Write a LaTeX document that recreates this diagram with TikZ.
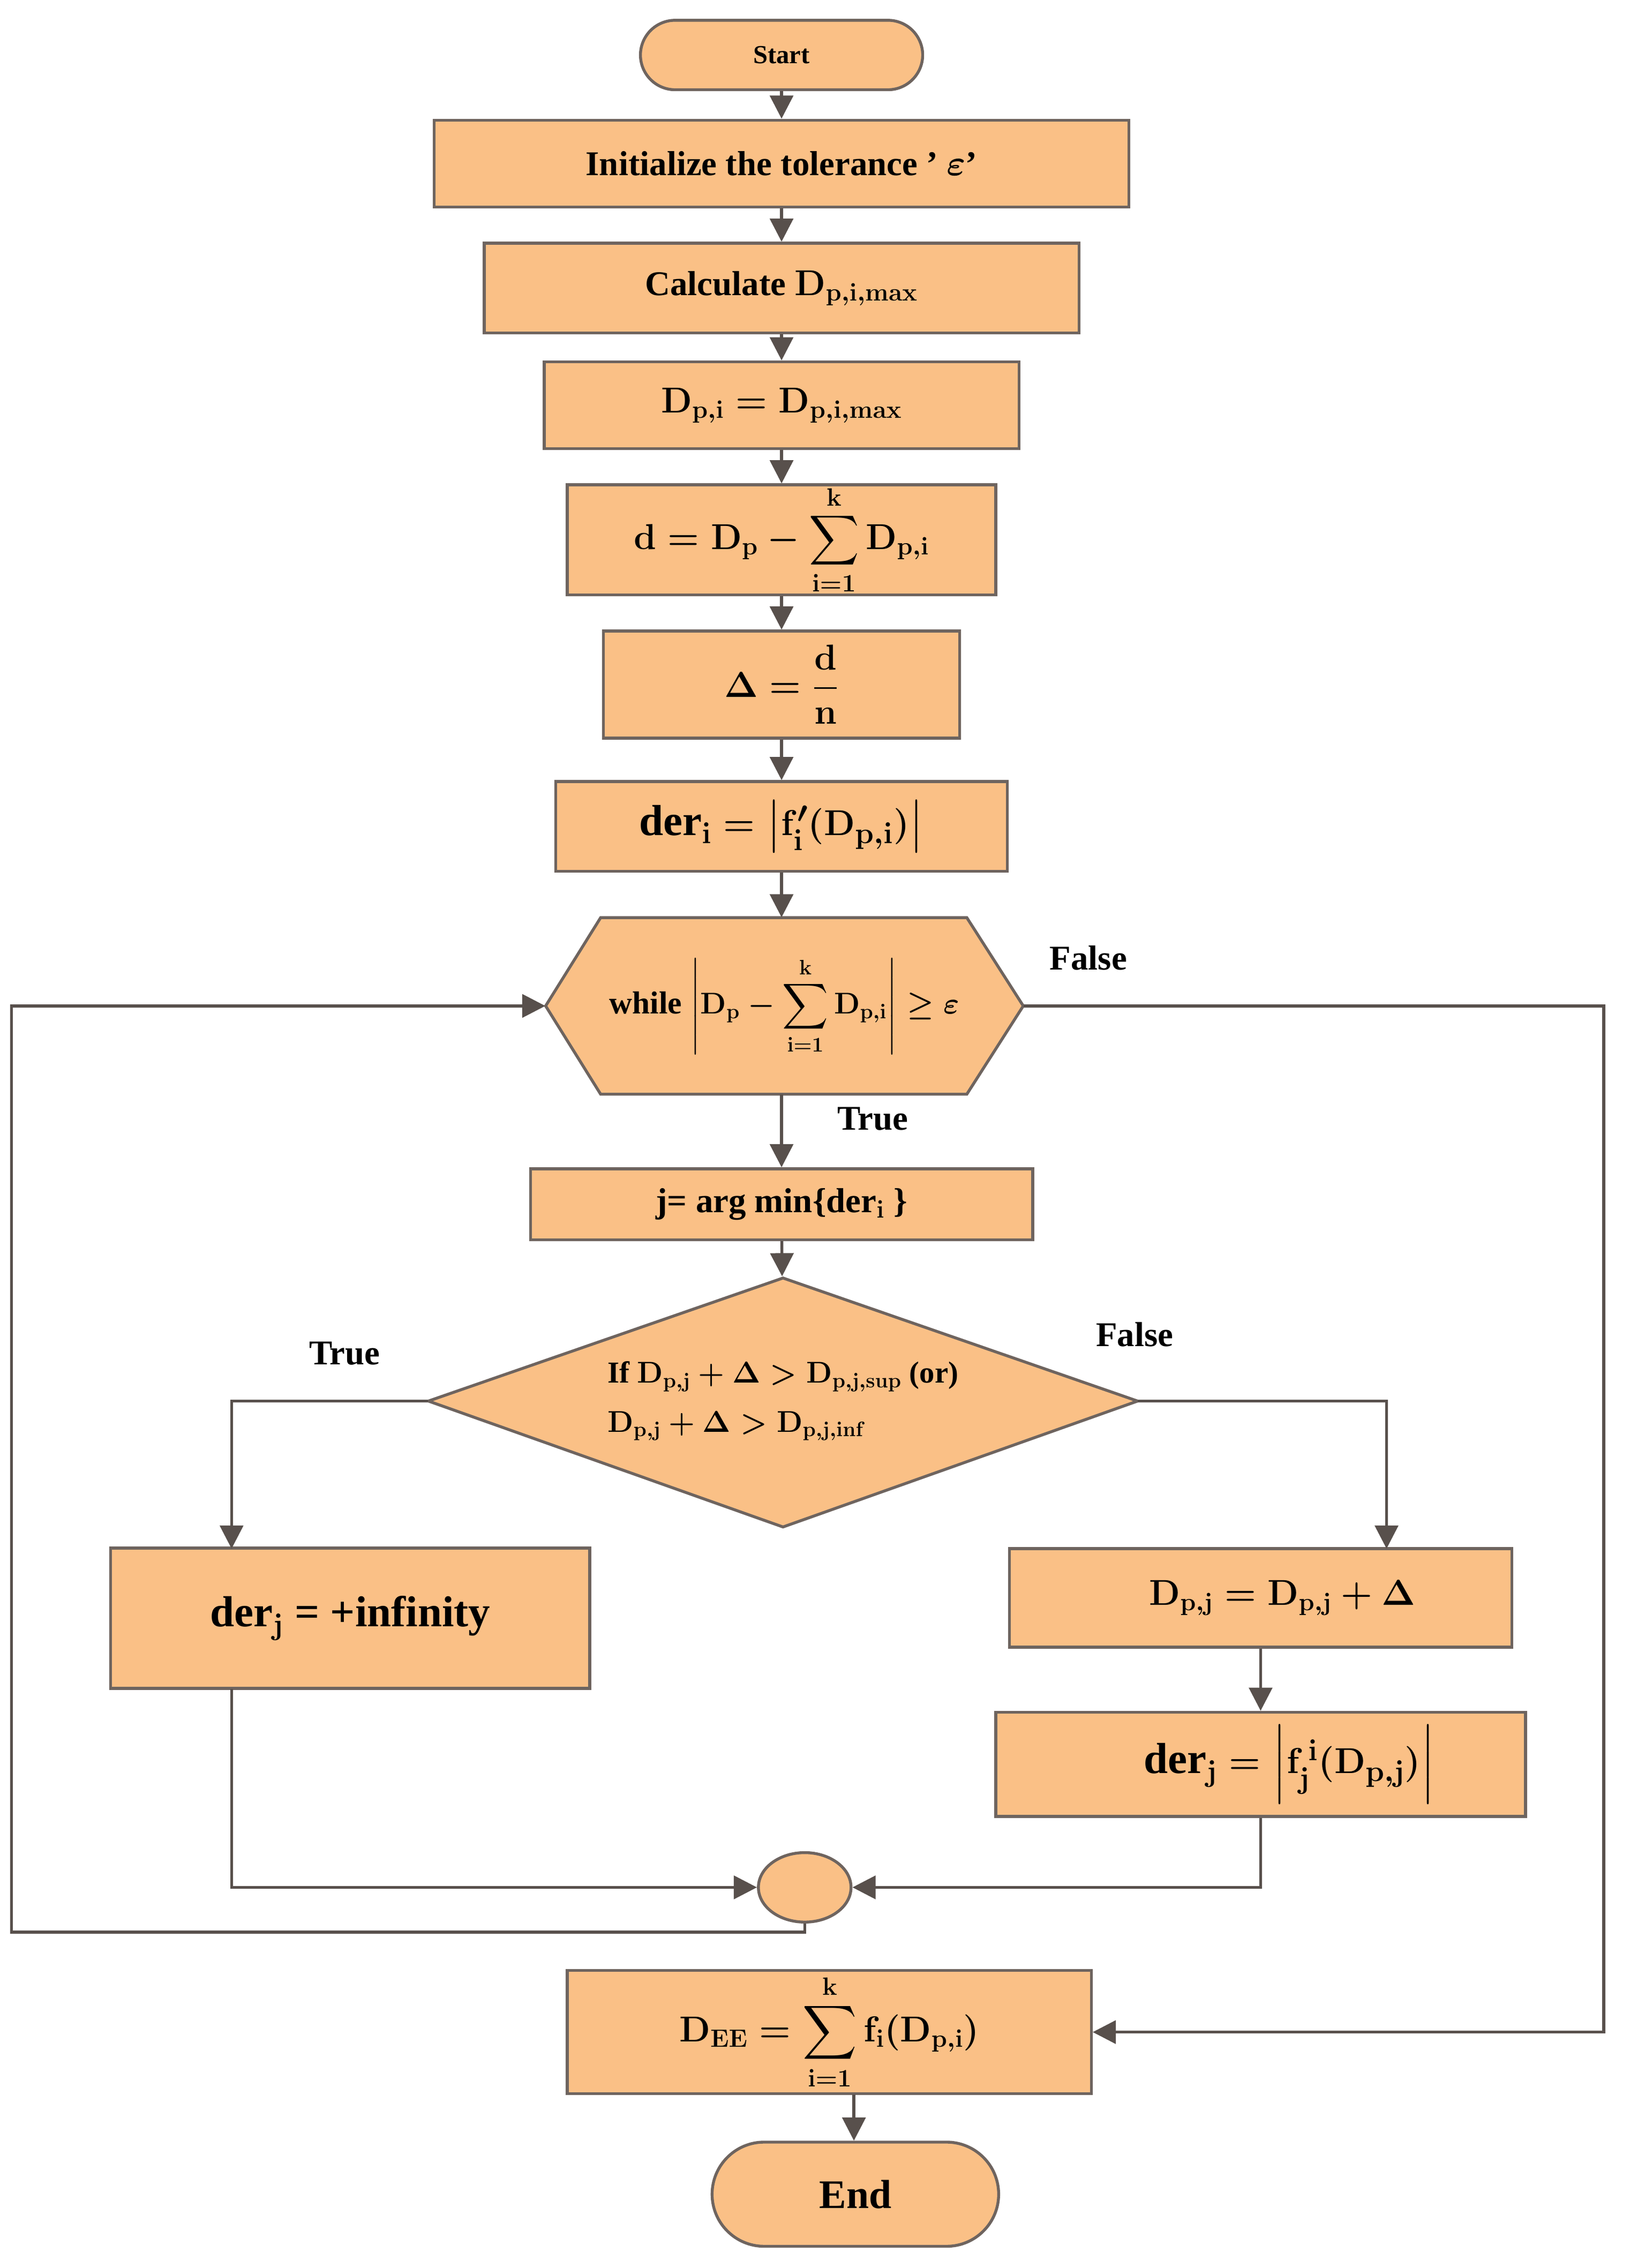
\documentclass[tikz,border=0pt]{standalone}
\usepackage{amsmath,amssymb}
\usepackage{fontspec}
\setmainfont{Liberation Serif}
\usetikzlibrary{arrows.meta,shapes.geometric}
\definecolor{boxfill}{RGB}{250,192,134}
\definecolor{boxline}{RGB}{110,100,95}
\begin{document}
\begin{tikzpicture}[x=1pt,y=-1pt,
  box/.style={draw=boxline,fill=boxfill,line width=2pt,inner sep=0pt,font=\bfseries\boldmath\fontsize{24}{28}\selectfont},
  lbl/.style={font=\bfseries\fontsize{24}{28}\selectfont},
  arr/.style={draw=boxline!80!black,line width=2pt,-{Triangle[length=16pt,width=16pt]}},
  ln/.style={draw=boxline!80!black,line width=2pt}]
\useasboundingbox (0,0) rectangle (1126,1567);
\node[box,rounded corners=24pt,minimum width=195pt,minimum height=48pt,font=\bfseries\fontsize{18}{22}\selectfont] (start) at (540,38) {Start};
\node[box,minimum width=480pt,minimum height=60pt] (init) at (540,113) {Initialize the tolerance ' $\varepsilon$'};
\node[box,minimum width=411pt,minimum height=62pt] (calc) at (540,199) {Calculate $\mathbf{D_{p,i,max}}$};
\node[box,minimum width=328pt,minimum height=60pt] (dpi) at (540,280) {$\mathbf{D_{p,i}=D_{p,i,max}}$};
\node[box,minimum width=296pt,minimum height=73pt] (dd) at (540,373) {$\mathbf{d=D_p-\displaystyle\sum_{i=1}^{k}D_{p,i}}$};
\node[box,minimum width=246pt,minimum height=74pt] (delta) at (540,473) {$\boldsymbol{\Delta}=\dfrac{\mathbf d}{\mathbf n}$};
\node[box,minimum width=312pt,minimum height=62pt,font=\bfseries\boldmath\fontsize{30}{34}\selectfont] (deri) at (540,571) {der$_{\mathbf i}=\left|\mathbf{f_i'(D_{p,i})}\right|$};
\draw[box] (377,695)--(415,634)--(668,634)--(707,695)--(668,756)--(415,756)--cycle;
\node[inner sep=0pt,minimum width=330pt,minimum height=122pt,font=\bfseries\boldmath\fontsize{22}{26}\selectfont] (hex) at (542,695) {while $\left|\mathbf{D_p-\displaystyle\sum_{i=1}^{k}D_{p,i}}\right|\ge\varepsilon$};
\coordinate (hexs) at (540,756);
\node[box,minimum width=347pt,minimum height=49pt] (jarg) at (540,832) {j= arg min\{der$_{\mathbf i}$ \}};
\draw[box] (296,968)--(541,883)--(786,968)--(541,1055)--cycle;
\node[inner sep=0pt,minimum width=490pt,minimum height=172pt,align=left,font=\bfseries\boldmath\fontsize{21}{34}\selectfont] (dia) at (541,968) {If $\mathbf{D_{p,j}+\Delta>D_{p,j,sup}}$ (or)\\$\mathbf{D_{p,j}+\Delta>D_{p,j,inf}}$};
\node[box,minimum width=331pt,minimum height=97pt,font=\bfseries\boldmath\fontsize{30}{34}\selectfont] (inf) at (242,1118) {der$_{\mathbf j}$ = +infinity};
\node[box,minimum width=347pt,minimum height=68pt] (dpj) at (871,1104) {\hspace*{30pt}$\mathbf{D_{p,j}=D_{p,j}+\Delta}$};
\node[box,minimum width=366pt,minimum height=72pt,font=\bfseries\boldmath\fontsize{30}{34}\selectfont] (derj) at (871,1219) {\hspace*{40pt}der$_{\mathbf j}=\left|\mathbf{f_j^{\,i}(D_{p,j})}\right|$};
\node[box,ellipse,minimum width=64pt,minimum height=48pt] (circ) at (556,1304) {};
\node[box,minimum width=362pt,minimum height=85pt,font=\bfseries\boldmath\fontsize{26}{30}\selectfont] (dee) at (573,1404) {$\mathbf{D_{EE}=\displaystyle\sum_{i=1}^{k}f_i(D_{p,i})}$};
\node[box,rounded corners=36pt,minimum width=198pt,minimum height=72pt,font=\bfseries\fontsize{28}{32}\selectfont] (endn) at (591,1516) {End};
\draw[arr] (start) -- (init);
\draw[arr] (init) -- (calc);
\draw[arr] (calc) -- (dpi);
\draw[arr] (dpi) -- (dd);
\draw[arr] (dd) -- (delta);
\draw[arr] (delta) -- (deri);
\draw[arr] (deri) -- (deri.south |- hex.north);
\draw[arr] (hexs) -- (jarg);
\draw[arr] (jarg) -- (dia);
\draw[arr] (hex.east) -- (1108,695) -- (1108,1404) -- (dee.east);
\draw[arr] (dia.west) -- (160,968) -- (160,1070);
\draw[arr] (dia.east) -- (958,968) -- (958,1070);
\draw[arr] (dpj) -- (derj);
\draw[arr] (160,1167) -- (160,1304) -- (circ.west);
\draw[arr] (derj.south) -- (871,1304) -- (circ.east);
\draw[arr] (circ.south) -- (556,1335) -- (8,1335) -- (8,695) -- (hex.west);
\draw[arr] (590,1447) -- (endn.north -| 590,0);
\node[lbl] at (752,662) {False};
\node[lbl] at (603,773) {True};
\node[lbl] at (238,935) {True};
\node[lbl] at (784,922) {False};
\end{tikzpicture}
\end{document}
